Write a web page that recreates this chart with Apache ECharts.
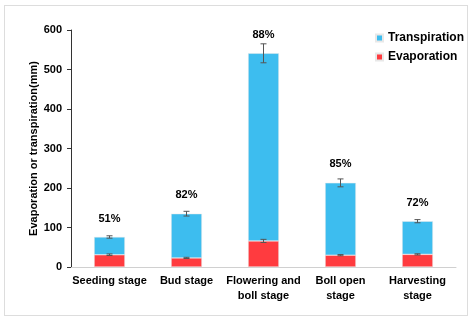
<!DOCTYPE html>
<html><head><meta charset="utf-8">
<script src="https://cdn.jsdelivr.net/npm/echarts@6/dist/echarts.min.js"></script>
<style>html,body{margin:0;padding:0;background:#fff}#c{width:474px;height:324px}
#frame{position:absolute;left:4px;top:5px;width:464px;height:311px;border:1px solid #ddd;box-sizing:border-box;pointer-events:none}</style>
</head><body><div id="c"></div><div id="frame"></div>
<script>
const categories = ['Seeding stage', 'Bud stage', 'Flowering and\nboll stage', 'Boll open\nstage', 'Harvesting\nstage'];
const evaporation = [31, 23, 66, 30, 32];
const transpiration = [45, 112, 475, 183, 84];
const evapError = [2, 1.5, 4, 1.5, 1.5];
const totalError = [3, 6, 24, 10, 4];
const percentLabels = ['51%', '82%', '88%', '85%', '72%'];
const yTicks = [0, 100, 200, 300, 400, 500, 600];

const font = 'Liberation Sans, Arial, sans-serif';
const chart = echarts.init(document.getElementById('c'));

function errData(base, err) {
  return base.map((v, i) => [i, v, err[i]]);
}
const totals = evaporation.map((v, i) => v + transpiration[i]);

function errRender(params, api) {
  const x = api.value(0), y = api.value(1), e = api.value(2);
  const top = api.coord([x, y + e]);
  const bot = api.coord([x, y - e]);
  const hw = 3;
  const style = { stroke: '#555', lineWidth: 1 };
  return { type: 'group', children: [
    { type: 'line', shape: { x1: top[0], y1: top[1], x2: bot[0], y2: bot[1] }, style },
    { type: 'line', shape: { x1: top[0] - hw, y1: top[1], x2: top[0] + hw, y2: top[1] }, style },
    { type: 'line', shape: { x1: bot[0] - hw, y1: bot[1], x2: bot[0] + hw, y2: bot[1] }, style }
  ]};
}

chart.setOption({
  animation: false,
  textStyle: { fontFamily: font },
  grid: { left: 71, right: 18, top: 30, bottom: 57 },
  legend: {
    orient: 'vertical', left: 370, top: 27, itemWidth: 7, itemHeight: 7, itemGap: 7,
    icon: 'rect',
    textStyle: { fontFamily: font, fontWeight: 'bold', fontSize: 12, color: '#000' },
    data: ['Transpiration', 'Evaporation']
  },
  xAxis: {
    type: 'category', data: categories,
    axisLine: { lineStyle: { color: '#d0d0d0', width: 1 } },
    axisTick: { show: false },
    axisLabel: { color: '#000', fontWeight: 'bold', fontSize: 11, fontFamily: font, lineHeight: 15, margin: 6, interval: 0 }
  },
  yAxis: {
    type: 'value', min: 0, max: 600, interval: 100,
    name: 'Evaporation or transpiration(mm)', nameLocation: 'middle', nameGap: 32, nameMoveOverlap: false,
    nameTextStyle: { color: '#000', fontWeight: 'bold', fontSize: 11, fontFamily: font },
    axisLine: { show: true, lineStyle: { color: '#333', width: 1 } },
    axisTick: { show: true, length: 4, inside: false, lineStyle: { color: '#333' } },
    splitLine: { show: false },
    axisLabel: { color: '#000', fontWeight: 'bold', fontSize: 11, fontFamily: font, margin: 9,
      formatter: v => yTicks.includes(v) ? String(v) : '' }
  },
  series: [
    { name: 'Evaporation', type: 'bar', stack: 'a', data: evaporation, barWidth: '40%',
      itemStyle: { color: '#FF3B3F', borderColor: '#e8e8e8', borderWidth: 0.5 } },
    { name: 'Transpiration', type: 'bar', stack: 'a', data: transpiration, barWidth: '40%',
      itemStyle: { color: '#3DBDEF', borderColor: '#e8e8e8', borderWidth: 0.5 },
      label: { show: true, position: 'top', distance: 13, color: '#000', fontWeight: 'bold', fontSize: 11, fontFamily: font,
        formatter: p => percentLabels[p.dataIndex] } },
    { type: 'custom', renderItem: errRender, data: errData(evaporation, evapError), z: 10, silent: true },
    { type: 'custom', renderItem: errRender, data: errData(totals, totalError), z: 10, silent: true }
  ]
});
</script></body></html>
